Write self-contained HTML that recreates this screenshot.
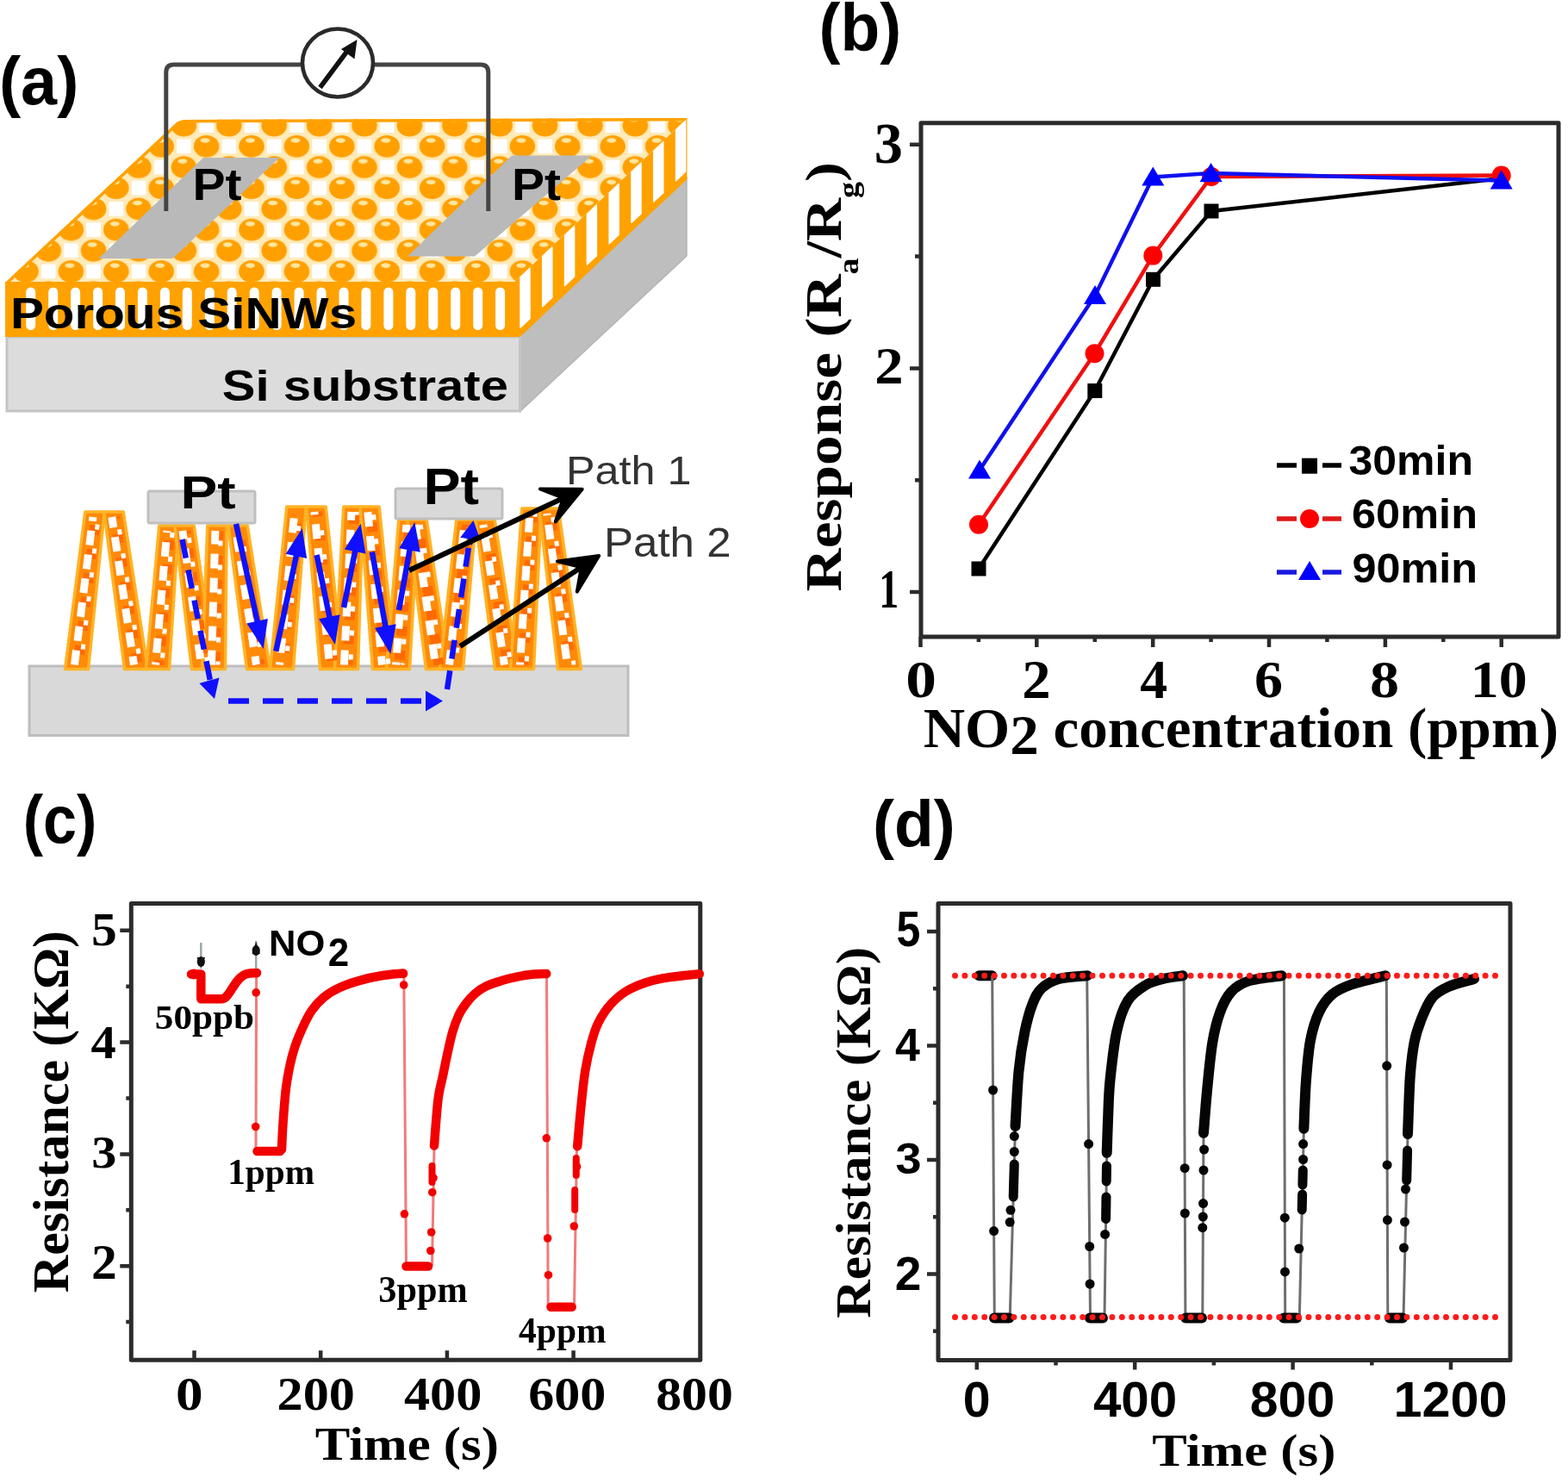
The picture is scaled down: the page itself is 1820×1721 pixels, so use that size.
<!DOCTYPE html>
<html><head><meta charset="utf-8"><title>figure</title>
<style>html,body{margin:0;padding:0;background:#fff;overflow:hidden}svg{display:block}</style></head>
<body><svg width="1820" height="1721" viewBox="0 0 1820 1721">
<rect x="0" y="0" width="1820" height="1721" fill="#fff"/>
<text transform="translate(-1.08,121.08) scale(0.9792,1)" font-family="'Liberation Sans', sans-serif" font-weight="bold" font-size="77.23" fill="#000">(a)</text>
<text transform="translate(950.45,59.08) scale(0.9700,1)" font-family="'Liberation Sans', sans-serif" font-weight="bold" font-size="77.23" fill="#000">(b)</text>
<text transform="translate(26.69,977.78) scale(0.9086,1)" font-family="'Liberation Sans', sans-serif" font-weight="bold" font-size="77.23" fill="#000">(c)</text>
<text transform="translate(1013.05,981.71) scale(0.9792,1)" font-family="'Liberation Sans', sans-serif" font-weight="bold" font-size="76.60" fill="#000">(d)</text>
<rect x="1069.0" y="142.7" width="740.0" height="596.3" fill="none" stroke="#2b2b2b" stroke-width="5" stroke-linejoin="round"/>
<path d="M1069.0,687.0h-13 M1069.0,427.4h-13 M1069.0,167.8h-13 M1069.0,557.2h-7 M1069.0,297.6h-7 M1068.5,739.0v12 M1203.3,739.0v12 M1338.2,739.0v12 M1473.0,739.0v12 M1607.9,739.0v12 M1742.7,739.0v12 M1135.9,739.0v6 M1270.8,739.0v6 M1405.6,739.0v6 M1540.4,739.0v6 M1675.3,739.0v6" stroke="#2b2b2b" stroke-width="4.5" fill="none"/>
<polyline points="1136.0,660.0 1270.8,453.5 1338.5,324.3 1406.0,245.0 1742.7,207.0" fill="none" stroke="#000" stroke-width="4.5" stroke-linejoin="round"/>
<rect x="1127.5" y="651.5" width="17" height="17" fill="#000"/>
<rect x="1262.3" y="445.0" width="17" height="17" fill="#000"/>
<rect x="1330.0" y="315.8" width="17" height="17" fill="#000"/>
<rect x="1397.5" y="236.5" width="17" height="17" fill="#000"/>
<rect x="1734.2" y="198.5" width="17" height="17" fill="#000"/>
<polyline points="1136.0,608.7 1270.5,410.3 1338.3,296.6 1406.0,205.0 1742.7,203.5" fill="none" stroke="#f01010" stroke-width="4.5" stroke-linejoin="round"/>
<circle cx="1136.0" cy="608.7" r="11" fill="#f00"/>
<circle cx="1270.5" cy="410.3" r="11" fill="#f00"/>
<circle cx="1338.3" cy="296.6" r="11" fill="#f00"/>
<circle cx="1406.0" cy="205.0" r="11" fill="#f00"/>
<circle cx="1742.7" cy="203.5" r="11" fill="#f00"/>
<polyline points="1137.0,545.5 1271.0,343.0 1338.3,205.5 1405.6,201.0 1742.7,209.5" fill="none" stroke="#1010f0" stroke-width="4.5" stroke-linejoin="round"/>
<polygon points="1137.0,533.4 1150.0,555.4 1124.0,555.4" fill="#00f"/>
<polygon points="1271.0,330.9 1284.0,352.9 1258.0,352.9" fill="#00f"/>
<polygon points="1338.3,193.4 1351.3,215.4 1325.3,215.4" fill="#00f"/>
<polygon points="1405.6,188.9 1418.6,210.9 1392.6,210.9" fill="#00f"/>
<polygon points="1742.7,197.4 1755.7,219.4 1729.7,219.4" fill="#00f"/>
<path d="M1482,540H1505M1535,540H1557" stroke="#000" stroke-width="5.5"/>
<rect x="1511.0" y="531.7" width="18" height="18" fill="#000"/>
<path d="M1482,602H1505M1535,602H1557" stroke="#e01818" stroke-width="5.5"/>
<circle cx="1520.0" cy="602.0" r="11" fill="#f00"/>
<path d="M1482,664H1505M1535,664H1557" stroke="#1818e0" stroke-width="5.5"/>
<polygon points="1520.0,650.9 1533.0,672.9 1507.0,672.9" fill="#00f"/>
<text transform="translate(1565.50,551.00) scale(1.0282,1)" font-family="'Liberation Sans', sans-serif" font-weight="bold" font-size="48.63" fill="#000">30min</text>
<text transform="translate(1568.98,613.30) scale(1.0451,1)" font-family="'Liberation Sans', sans-serif" font-weight="bold" font-size="48.36" fill="#000">60min</text>
<text transform="translate(1569.49,676.00) scale(1.0503,1)" font-family="'Liberation Sans', sans-serif" font-weight="bold" font-size="47.95" fill="#000">90min</text>
<text transform="translate(1014.85,188.65) scale(0.9798,1)" font-family="'Liberation Serif', serif" font-weight="bold" font-size="67.65" fill="#000">3</text>
<text transform="translate(1015.33,445.38) scale(1.0763,1)" font-family="'Liberation Serif', serif" font-weight="bold" font-size="61.94" fill="#000">2</text>
<text transform="translate(1020.32,705.00) scale(0.7220,1)" font-family="'Liberation Serif', serif" font-weight="bold" font-size="63.64" fill="#000">1</text>
<text transform="translate(1051.14,809.26) scale(1.1565,1)" font-family="'Liberation Serif', serif" font-weight="bold" font-size="61.76" fill="#000">0</text>
<text transform="translate(1186.33,809.87) scale(1.0635,1)" font-family="'Liberation Serif', serif" font-weight="bold" font-size="62.69" fill="#000">2</text>
<text transform="translate(1323.36,809.86) scale(1.0030,1)" font-family="'Liberation Serif', serif" font-weight="bold" font-size="63.64" fill="#000">4</text>
<text transform="translate(1456.02,809.26) scale(1.0671,1)" font-family="'Liberation Serif', serif" font-weight="bold" font-size="61.76" fill="#000">6</text>
<text transform="translate(1589.95,809.26) scale(1.1039,1)" font-family="'Liberation Serif', serif" font-weight="bold" font-size="61.76" fill="#000">8</text>
<text transform="translate(1706.73,809.26) scale(1.0671,1)" font-family="'Liberation Serif', serif" font-weight="bold" font-size="61.76" fill="#000">10</text>
<text transform="translate(1071.66,867.00) scale(1.0283,1)" font-family="'Liberation Serif', serif" font-weight="bold" font-size="65.22" fill="#000">NO<tspan dy="0.13em">2</tspan><tspan dy="-0.13em"> concentration (ppm)</tspan></text>
<text transform="translate(976.00,686.39) rotate(-90) scale(1.1536,1)" font-family="'Liberation Serif', serif" font-weight="bold" font-size="60.14" fill="#000">Response (R<tspan font-size="0.55em" dy="0.6em">a</tspan><tspan dy="-0.33em">/R</tspan><tspan font-size="0.55em" dy="0.6em">g</tspan><tspan dy="-0.33em">)</tspan></text>
<rect x="152.3" y="1048.5" width="660.5" height="529.8" fill="none" stroke="#2b2b2b" stroke-width="5" stroke-linejoin="round"/>
<path d="M152.3,1469.2h-13 M152.3,1339.4h-13 M152.3,1209.6h-13 M152.3,1079.8h-13 M152.3,1534.1h-6 M152.3,1404.3h-6 M152.3,1274.5h-6 M152.3,1144.7h-6 M225.5,1578.3v-11 M372.2,1578.3v-11 M518.9,1578.3v-11 M665.6,1578.3v-11" stroke="#2b2b2b" stroke-width="4.5" fill="none"/>
<polyline points="297.6,1129.0 297.0,1336.0" fill="none" stroke="#f27a7a" stroke-width="3"/>
<polyline points="468.8,1130.0 471.5,1469.0" fill="none" stroke="#f27a7a" stroke-width="3"/>
<polyline points="501.5,1469.0 504.0,1330.0" fill="none" stroke="#f27a7a" stroke-width="3"/>
<polyline points="634.5,1130.0 636.2,1517.0" fill="none" stroke="#f27a7a" stroke-width="3"/>
<polyline points="666.5,1517.0 669.5,1330.0" fill="none" stroke="#f27a7a" stroke-width="3"/>
<path d="M222,1130.5 H233.3 V1159.3 H257 C268,1159.3 272,1131 290,1129.5 L298,1129" fill="none" stroke="#f20000" stroke-width="10.5" stroke-linecap="round" stroke-linejoin="round"/>
<circle cx="225" cy="1130.5" r="6" fill="#f20000"/>
<path d="M298.5,1336 H325" stroke="#f20000" stroke-width="10.5" stroke-linecap="round"/>
<path d="M327.0,1334.0 C327.2,1329.2 327.6,1317.1 328.4,1305.3 C329.2,1293.5 330.5,1275.0 331.9,1263.4 C333.3,1251.8 335.0,1243.6 336.7,1235.5 C338.4,1227.4 340.0,1221.6 342.3,1214.6 C344.6,1207.6 347.4,1200.7 350.7,1193.7 C353.9,1186.7 357.6,1178.8 361.8,1172.8 C366.0,1166.8 370.5,1161.8 375.8,1157.4 C381.1,1153.0 386.9,1149.5 393.9,1146.3 C400.9,1143.0 409.5,1140.2 417.6,1137.9 C425.7,1135.6 434.3,1133.7 442.7,1132.3 C451.1,1130.9 463.7,1130.0 467.9,1129.5" fill="none" stroke="#f20000" stroke-width="10.5" stroke-linecap="round" stroke-linejoin="round"/>
<path d="M471.5,1469.5 H497" stroke="#f20000" stroke-width="10.5" stroke-linecap="round"/>
<path d="M504.0,1329.6 C504.7,1320.8 506.8,1289.9 508.4,1276.6 C510.0,1263.3 511.9,1258.7 513.7,1250.0 C515.5,1241.3 517.1,1233.0 519.0,1224.3 C520.9,1215.6 523.0,1205.5 525.2,1197.9 C527.4,1190.3 529.6,1184.2 532.2,1178.6 C534.8,1173.0 537.8,1168.8 541.0,1164.5 C544.2,1160.2 547.5,1156.4 551.5,1153.0 C555.5,1149.6 559.6,1146.8 564.7,1144.3 C569.8,1141.8 576.4,1139.9 582.3,1138.1 C588.2,1136.3 594.0,1134.9 599.9,1133.7 C605.8,1132.5 611.8,1131.4 617.5,1130.8 C623.2,1130.2 631.4,1130.1 634.2,1130.0" fill="none" stroke="#f20000" stroke-width="10.5" stroke-linecap="round" stroke-linejoin="round"/>
<path d="M501.5,1353 V1372" stroke="#f20000" stroke-width="8" stroke-linecap="round"/>
<path d="M639.5,1516.8 H663.7" stroke="#f20000" stroke-width="10.5" stroke-linecap="round"/>
<path d="M670.2,1330.3 C670.9,1322.6 672.9,1298.9 674.4,1284.3 C675.9,1269.7 677.3,1254.8 679.3,1242.5 C681.3,1230.2 683.8,1219.7 686.3,1210.4 C688.8,1201.1 690.9,1194.1 694.6,1186.7 C698.3,1179.3 703.2,1171.8 708.6,1165.8 C714.0,1159.8 719.7,1154.7 726.7,1150.4 C733.7,1146.1 742.3,1142.7 750.4,1140.0 C758.5,1137.3 765.3,1136.0 775.5,1134.4 C785.7,1132.8 805.8,1130.9 811.8,1130.2" fill="none" stroke="#f20000" stroke-width="10.5" stroke-linecap="round" stroke-linejoin="round"/>
<path d="M667.2,1381 V1404 M668.8,1344 V1364" stroke="#f20000" stroke-width="8" stroke-linecap="round"/>
<circle cx="297.2" cy="1151.9" r="4.8" fill="#f20000"/>
<circle cx="296.7" cy="1307.5" r="4.8" fill="#f20000"/>
<circle cx="468.7" cy="1143" r="4.8" fill="#f20000"/>
<circle cx="469.4" cy="1408.8" r="4.8" fill="#f20000"/>
<circle cx="499.8" cy="1451.5" r="4.8" fill="#f20000"/>
<circle cx="500.7" cy="1430" r="4.8" fill="#f20000"/>
<circle cx="501.8" cy="1383.7" r="4.8" fill="#f20000"/>
<circle cx="503" cy="1367" r="4.8" fill="#f20000"/>
<circle cx="634.3" cy="1320.8" r="4.8" fill="#f20000"/>
<circle cx="635.6" cy="1437" r="4.8" fill="#f20000"/>
<circle cx="636.5" cy="1479.7" r="4.8" fill="#f20000"/>
<circle cx="666.3" cy="1423" r="4.8" fill="#f20000"/>
<circle cx="669.6" cy="1354" r="4.8" fill="#f20000"/>
<circle cx="298" cy="1129.5" r="4.8" fill="#f20000"/>
<circle cx="468.5" cy="1130" r="4.8" fill="#f20000"/>
<circle cx="634.3" cy="1130" r="4.8" fill="#f20000"/>
<path d="M233.3,1094 V1124" stroke="#9aa7a4" stroke-width="2.5"/>
<path d="M228.5,1111 L233.3,1122 L238.1,1111 Z" fill="#111"/>
<ellipse cx="233.3" cy="1116" rx="4.6" ry="6" fill="#111"/>
<path d="M297.2,1092 V1124" stroke="#9aa7a4" stroke-width="2.5"/>
<path d="M292.4,1107 L297.2,1093 L302,1107 Z" fill="#111"/>
<ellipse cx="297.2" cy="1103" rx="4.6" ry="6" fill="#111"/>
<text transform="translate(311.95,1108.50) scale(1.0156,1)" font-family="'Liberation Sans', sans-serif" font-weight="bold" font-size="42.86" fill="#000">NO</text>
<text transform="translate(380.68,1121.00) scale(0.9307,1)" font-family="'Liberation Sans', sans-serif" font-weight="bold" font-size="47.14" fill="#000">2</text>
<text transform="translate(179.77,1194.30) scale(1.0733,1)" font-family="'Liberation Serif', serif" font-weight="bold" font-size="40.29" fill="#000">50ppb</text>
<text transform="translate(264.20,1374.20) scale(0.9835,1)" font-family="'Liberation Serif', serif" font-weight="bold" font-size="41.97" fill="#000">1ppm</text>
<text transform="translate(439.31,1511.00) scale(0.9455,1)" font-family="'Liberation Serif', serif" font-weight="bold" font-size="44.70" fill="#000">3ppm</text>
<text transform="translate(602.08,1558.00) scale(0.9998,1)" font-family="'Liberation Serif', serif" font-weight="bold" font-size="41.54" fill="#000">4ppm</text>
<text transform="translate(106.12,1096.95) scale(1.0763,1)" font-family="'Liberation Serif', serif" font-weight="bold" font-size="55.30" fill="#000">5</text>
<text transform="translate(105.41,1227.95) scale(1.0580,1)" font-family="'Liberation Serif', serif" font-weight="bold" font-size="55.30" fill="#000">4</text>
<text transform="translate(106.17,1355.43) scale(1.0831,1)" font-family="'Liberation Serif', serif" font-weight="bold" font-size="53.68" fill="#000">3</text>
<text transform="translate(106.12,1483.93) scale(1.0359,1)" font-family="'Liberation Serif', serif" font-weight="bold" font-size="57.46" fill="#000">2</text>
<text transform="translate(203.98,1635.91) scale(1.1596,1)" font-family="'Liberation Serif', serif" font-weight="bold" font-size="54.41" fill="#000">0</text>
<text transform="translate(321.59,1635.91) scale(1.1066,1)" font-family="'Liberation Serif', serif" font-weight="bold" font-size="54.41" fill="#000">200</text>
<text transform="translate(468.90,1635.91) scale(1.1090,1)" font-family="'Liberation Serif', serif" font-weight="bold" font-size="54.41" fill="#000">400</text>
<text transform="translate(613.20,1635.91) scale(1.1053,1)" font-family="'Liberation Serif', serif" font-weight="bold" font-size="54.41" fill="#000">600</text>
<text transform="translate(761.21,1635.91) scale(1.0988,1)" font-family="'Liberation Serif', serif" font-weight="bold" font-size="54.41" fill="#000">800</text>
<text transform="translate(365.78,1694.00) scale(1.0889,1)" font-family="'Liberation Serif', serif" font-weight="bold" font-size="55.80" fill="#000">Time (s)</text>
<text transform="translate(78.60,1500.20) rotate(-90) scale(1.0342,1)" font-family="'Liberation Serif', serif" font-weight="bold" font-size="58.12" fill="#000">Resistance (KΩ)</text>
<rect x="1089.0" y="1048.5" width="664.0" height="530.0" fill="none" stroke="#2b2b2b" stroke-width="5" stroke-linejoin="round"/>
<path d="M1089.0,1478.6h-13 M1089.0,1346.1h-13 M1089.0,1213.6h-13 M1089.0,1081.1h-13 M1089.0,1544.8h-6 M1089.0,1412.3h-6 M1089.0,1279.8h-6 M1089.0,1147.3h-6 M1133.8,1578.5v11 M1317.2,1578.5v11 M1500.6,1578.5v11 M1684.0,1578.5v11 M1225.5,1578.5v6 M1408.9,1578.5v6 M1592.3,1578.5v6" stroke="#2b2b2b" stroke-width="4.5" fill="none"/>
<path d="M1136.5,1132.3 H1151.5" stroke="#050505" stroke-width="12" stroke-linecap="round"/>
<path d="M1151.7,1132.3 L1154.3,1529.6 M1172.2,1529.6 L1178.5,1307" stroke="#6e6e6e" stroke-width="3" fill="none"/>
<path d="M1261.7,1132.3 L1265.5,1529.6 M1282,1529.6 L1284.7,1337.8" stroke="#6e6e6e" stroke-width="3" fill="none"/>
<path d="M1374.2,1132.3 L1375.9,1529.6 M1395.8,1529.6 L1397,1314.8" stroke="#6e6e6e" stroke-width="3" fill="none"/>
<path d="M1490.4,1132.3 L1491.7,1529.6 M1508.3,1529.6 L1513.4,1309.7" stroke="#6e6e6e" stroke-width="3" fill="none"/>
<path d="M1609.3,1132.3 L1610.8,1529.6 M1629,1529.6 L1634,1316" stroke="#6e6e6e" stroke-width="3" fill="none"/>
<path d="M1154,1529.6 H1171.3" stroke="#050505" stroke-width="12" stroke-linecap="round"/>
<path d="M1178.5,1307.0 C1179.2,1296.3 1180.7,1261.3 1182.5,1243.0 C1184.3,1224.7 1186.8,1210.0 1189.5,1197.0 C1192.2,1184.0 1195.2,1173.3 1198.5,1165.0 C1201.8,1156.7 1203.9,1151.8 1209.0,1147.0 C1214.1,1142.2 1220.2,1138.5 1229.0,1136.0 C1237.8,1133.5 1256.5,1132.9 1262.0,1132.3" fill="none" stroke="#050505" stroke-width="12" stroke-linecap="round" stroke-linejoin="round"/>
<circle cx="1152.6" cy="1265" r="5.5" fill="#050505"/>
<circle cx="1153.6" cy="1428.6" r="5.5" fill="#050505"/>
<circle cx="1172.2" cy="1418.3" r="5.5" fill="#050505"/>
<circle cx="1173" cy="1404.3" r="5.5" fill="#050505"/>
<circle cx="1177.3" cy="1336.5" r="5.5" fill="#050505"/>
<circle cx="1177.3" cy="1318.6" r="5.5" fill="#050505"/>
<path d="M1176.2,1389 L1177.3,1351" stroke="#050505" stroke-width="11" stroke-linecap="round"/>
<path d="M1265,1529.6 H1280" stroke="#050505" stroke-width="12" stroke-linecap="round"/>
<path d="M1284.7,1337.8 C1285.0,1330.7 1285.6,1309.1 1286.2,1295.0 C1286.8,1280.9 1286.8,1269.7 1288.5,1253.4 C1290.2,1237.1 1292.8,1212.3 1296.2,1197.0 C1299.6,1181.7 1303.5,1170.3 1309.0,1161.4 C1314.5,1152.5 1322.6,1147.7 1329.4,1143.5 C1336.2,1139.3 1342.7,1137.9 1350.0,1136.0 C1357.3,1134.1 1369.2,1132.9 1373.0,1132.3" fill="none" stroke="#050505" stroke-width="12" stroke-linecap="round" stroke-linejoin="round"/>
<circle cx="1263.6" cy="1327.6" r="5.5" fill="#050505"/>
<circle cx="1264.7" cy="1446.5" r="5.5" fill="#050505"/>
<circle cx="1265.1" cy="1490" r="5.5" fill="#050505"/>
<circle cx="1282.6" cy="1432.4" r="5.5" fill="#050505"/>
<path d="M1283.6,1414.5 L1284.0,1389" stroke="#050505" stroke-width="11" stroke-linecap="round"/>
<path d="M1284.2,1371 L1284.5,1353" stroke="#050505" stroke-width="11" stroke-linecap="round"/>
<path d="M1376.2,1529.6 H1395" stroke="#050505" stroke-width="12" stroke-linecap="round"/>
<path d="M1397.0,1314.8 C1397.7,1306.7 1399.3,1283.7 1401.0,1266.2 C1402.7,1248.7 1404.8,1225.3 1407.3,1210.0 C1409.8,1194.7 1412.7,1184.0 1416.3,1174.2 C1419.9,1164.4 1423.5,1157.1 1429.0,1151.1 C1434.5,1145.1 1439.7,1141.5 1449.5,1138.4 C1459.3,1135.3 1481.4,1133.3 1487.8,1132.3" fill="none" stroke="#050505" stroke-width="12" stroke-linecap="round" stroke-linejoin="round"/>
<circle cx="1375.2" cy="1355.7" r="5.5" fill="#050505"/>
<circle cx="1375.4" cy="1408" r="5.5" fill="#050505"/>
<circle cx="1395.8" cy="1424.7" r="5.5" fill="#050505"/>
<circle cx="1396.3" cy="1412" r="5.5" fill="#050505"/>
<circle cx="1396.6" cy="1396.6" r="5.5" fill="#050505"/>
<circle cx="1397" cy="1358" r="5.5" fill="#050505"/>
<circle cx="1397.6" cy="1334" r="5.5" fill="#050505"/>
<path d="M1490,1529.6 H1505" stroke="#050505" stroke-width="12" stroke-linecap="round"/>
<path d="M1513.4,1309.7 C1513.8,1300.3 1514.7,1270.5 1516.0,1253.4 C1517.3,1236.4 1518.5,1220.6 1521.0,1207.4 C1523.5,1194.2 1527.0,1183.2 1531.3,1174.2 C1535.6,1165.2 1540.3,1159.0 1546.7,1153.7 C1553.1,1148.4 1559.5,1145.8 1569.7,1142.2 C1579.9,1138.6 1601.6,1134.0 1608.0,1132.3" fill="none" stroke="#050505" stroke-width="12" stroke-linecap="round" stroke-linejoin="round"/>
<circle cx="1491.3" cy="1413.2" r="5.5" fill="#050505"/>
<circle cx="1491.5" cy="1475.9" r="5.5" fill="#050505"/>
<circle cx="1507.8" cy="1449" r="5.5" fill="#050505"/>
<circle cx="1512.6" cy="1345.5" r="5.5" fill="#050505"/>
<circle cx="1512.6" cy="1327.6" r="5.5" fill="#050505"/>
<path d="M1511.2,1404 L1511.6,1386" stroke="#050505" stroke-width="11" stroke-linecap="round"/>
<path d="M1511.9,1375 L1512.3,1358" stroke="#050505" stroke-width="11" stroke-linecap="round"/>
<path d="M1613,1529.6 H1628" stroke="#050505" stroke-width="12" stroke-linecap="round"/>
<path d="M1634.0,1316.0 C1634.5,1305.0 1635.5,1267.7 1636.7,1250.0 C1638.0,1232.3 1639.4,1221.1 1641.5,1210.0 C1643.6,1198.9 1646.0,1192.1 1649.5,1183.4 C1653.0,1174.7 1657.0,1164.2 1662.3,1157.8 C1667.6,1151.4 1673.3,1148.6 1681.4,1145.0 C1689.5,1141.4 1706.1,1137.5 1711.0,1136.0" fill="none" stroke="#050505" stroke-width="12" stroke-linecap="round" stroke-linejoin="round"/>
<circle cx="1609.7" cy="1236.8" r="5.5" fill="#050505"/>
<circle cx="1610.1" cy="1351.9" r="5.5" fill="#050505"/>
<circle cx="1610.4" cy="1415.8" r="5.5" fill="#050505"/>
<circle cx="1629.5" cy="1448" r="5.5" fill="#050505"/>
<circle cx="1630.5" cy="1418" r="5.5" fill="#050505"/>
<circle cx="1631.5" cy="1380" r="5.5" fill="#050505"/>
<path d="M1632.7,1370 L1633.6,1335" stroke="#050505" stroke-width="11" stroke-linecap="round"/>
<path d="M1108.5,1132.3 H1736" stroke="#ff1a1a" stroke-width="7" stroke-linecap="round" stroke-dasharray="0 11.4" fill="none"/>
<path d="M1108.5,1528.5 H1736" stroke="#ff1a1a" stroke-width="7" stroke-linecap="round" stroke-dasharray="0 11.4" fill="none"/>
<text transform="translate(1040.50,1097.92) scale(0.8642,1)" font-family="'Liberation Sans', sans-serif" font-weight="bold" font-size="57.86" fill="#000">5</text>
<text transform="translate(1038.98,1230.50) scale(0.9541,1)" font-family="'Liberation Sans', sans-serif" font-weight="bold" font-size="54.35" fill="#000">4</text>
<text transform="translate(1039.42,1362.49) scale(1.0650,1)" font-family="'Liberation Sans', sans-serif" font-weight="bold" font-size="50.70" fill="#000">3</text>
<text transform="translate(1038.85,1497.00) scale(0.9890,1)" font-family="'Liberation Sans', sans-serif" font-weight="bold" font-size="55.71" fill="#000">2</text>
<text transform="translate(1117.71,1643.92) scale(0.9921,1)" font-family="'Liberation Sans', sans-serif" font-weight="bold" font-size="57.75" fill="#000">0</text>
<text transform="translate(1268.92,1643.92) scale(1.0102,1)" font-family="'Liberation Sans', sans-serif" font-weight="bold" font-size="57.75" fill="#000">400</text>
<text transform="translate(1450.73,1643.92) scale(1.0228,1)" font-family="'Liberation Sans', sans-serif" font-weight="bold" font-size="57.75" fill="#000">800</text>
<text transform="translate(1617.43,1643.92) scale(1.0292,1)" font-family="'Liberation Sans', sans-serif" font-weight="bold" font-size="57.75" fill="#000">1200</text>
<text transform="translate(1337.28,1701.40) scale(1.1517,1)" font-family="'Liberation Serif', serif" font-weight="bold" font-size="52.75" fill="#000">Time (s)</text>
<text transform="translate(1010.00,1529.73) rotate(-90) scale(1.0763,1)" font-family="'Liberation Serif', serif" font-weight="bold" font-size="57.25" fill="#000">Resistance (KΩ)</text>
<defs>
<pattern id="surf" patternUnits="userSpaceOnUse" x="30" y="24.6" width="52.4" height="48.4">
 <rect width="52.4" height="48.4" fill="#ffeab8"/>
 <g fill="#ffffff">
  <rect x="17.9" y="-8.3" width="16.6" height="16.6"/><rect x="17.9" y="40.1" width="16.6" height="16.6"/>
  <rect x="-8.3" y="15.9" width="16.6" height="16.6"/><rect x="44.1" y="15.9" width="16.6" height="16.6"/>
 </g>
 <g id="ball">
  <ellipse cx="0" cy="0" rx="14.8" ry="12.9" fill="#ffa000"/>
  <ellipse cx="-1.5" cy="-6.8" rx="5.5" ry="2.8" fill="#ffe7a0"/>
 </g>
 <use href="#ball" x="52.4"/><use href="#ball" y="48.4"/><use href="#ball" x="52.4" y="48.4"/>
 <use href="#ball" x="26.2" y="24.2"/>
</pattern>
<linearGradient id="subR" x1="0" y1="0" x2="1" y2="0"><stop offset="0" stop-color="#bcbcbc"/><stop offset="1" stop-color="#c2c2c2"/></linearGradient>
</defs>
<polygon points="603.5,390 797,207 797,297 603.5,477.5" fill="#bebebe" stroke="#b4b4b4" stroke-width="1.5"/>
<rect x="8" y="391" width="595.5" height="86" fill="#dcdcdc" stroke="#c4c4c4" stroke-width="3"/>
<rect x="6" y="327" width="598" height="64" fill="#ffa200"/>
<rect x="30.2" y="333.5" width="11" height="49.5" rx="5.5" fill="#fff"/><rect x="56.2" y="333.5" width="11" height="49.5" rx="5.5" fill="#fff"/><rect x="82.1" y="333.5" width="11" height="49.5" rx="5.5" fill="#fff"/><rect x="108.1" y="333.5" width="11" height="49.5" rx="5.5" fill="#fff"/><rect x="134.0" y="333.5" width="11" height="49.5" rx="5.5" fill="#fff"/><rect x="159.9" y="333.5" width="11" height="49.5" rx="5.5" fill="#fff"/><rect x="185.9" y="333.5" width="11" height="49.5" rx="5.5" fill="#fff"/><rect x="211.8" y="333.5" width="11" height="49.5" rx="5.5" fill="#fff"/><rect x="237.8" y="333.5" width="11" height="49.5" rx="5.5" fill="#fff"/><rect x="263.7" y="333.5" width="11" height="49.5" rx="5.5" fill="#fff"/><rect x="289.7" y="333.5" width="11" height="49.5" rx="5.5" fill="#fff"/><rect x="315.6" y="333.5" width="11" height="49.5" rx="5.5" fill="#fff"/><rect x="341.6" y="333.5" width="11" height="49.5" rx="5.5" fill="#fff"/><rect x="367.5" y="333.5" width="11" height="49.5" rx="5.5" fill="#fff"/><rect x="393.5" y="333.5" width="11" height="49.5" rx="5.5" fill="#fff"/><rect x="419.4" y="333.5" width="11" height="49.5" rx="5.5" fill="#fff"/><rect x="445.4" y="333.5" width="11" height="49.5" rx="5.5" fill="#fff"/><rect x="471.3" y="333.5" width="11" height="49.5" rx="5.5" fill="#fff"/><rect x="497.3" y="333.5" width="11" height="49.5" rx="5.5" fill="#fff"/><rect x="523.2" y="333.5" width="11" height="49.5" rx="5.5" fill="#fff"/><rect x="549.2" y="333.5" width="11" height="49.5" rx="5.5" fill="#fff"/><rect x="575.1" y="333.5" width="11" height="49.5" rx="5.5" fill="#fff"/>
<polygon points="597,327 797.5,137 797.5,208 603.5,391 597,391" fill="#ffa200"/>
<polygon points="604.0,321.9 615.0,311.4 615.0,369.7 604.0,380.0" fill="#fff" stroke="#fff" stroke-width="1.5" stroke-linejoin="round"/><polygon points="629.8,297.4 640.8,287.0 640.8,345.3 629.8,355.7" fill="#fff" stroke="#fff" stroke-width="1.5" stroke-linejoin="round"/><polygon points="655.6,273.0 666.6,262.5 666.6,321.0 655.6,331.4" fill="#fff" stroke="#fff" stroke-width="1.5" stroke-linejoin="round"/><polygon points="681.4,248.5 692.4,238.1 692.4,296.6 681.4,307.0" fill="#fff" stroke="#fff" stroke-width="1.5" stroke-linejoin="round"/><polygon points="707.2,224.1 718.2,213.6 718.2,272.3 707.2,282.7" fill="#fff" stroke="#fff" stroke-width="1.5" stroke-linejoin="round"/><polygon points="733.0,199.6 744.0,189.2 744.0,248.0 733.0,258.3" fill="#fff" stroke="#fff" stroke-width="1.5" stroke-linejoin="round"/><polygon points="758.8,175.2 769.8,164.7 769.8,223.6 758.8,234.0" fill="#fff" stroke="#fff" stroke-width="1.5" stroke-linejoin="round"/><polygon points="784.6,150.7 795.6,140.3 795.6,199.3 784.6,209.7" fill="#fff" stroke="#fff" stroke-width="1.5" stroke-linejoin="round"/>
<clipPath id="topclip"><path d="M7,327 L203,144 Q208,139 216,139 L797.5,137 L597,327 Z"/></clipPath>
<path d="M7,327 L203,144 Q208,139 216,139 L797.5,137 L597,327 Z" fill="url(#surf)"/>
<path d="M7,327 L203,144 Q208,139 216,139 L797.5,137" fill="none" stroke="#ffa200" stroke-width="7" clip-path="url(#topclip)"/>
<polygon points="114.5,300 200.5,300 324.5,183 236,183" fill="#b9b9b9"/>
<polygon points="473,297.5 551,297.5 687,180.5 594,180.5" fill="#b9b9b9"/>
<path d="M192.8,245 V84 Q192.8,75 201.5,75 H351 M433,75 H558 Q566.8,75 566.8,84 V245" fill="none" stroke="#444" stroke-width="5"/>
<ellipse cx="392" cy="73" rx="41" ry="39.5" fill="#fff" stroke="#2a2a2a" stroke-width="4.6"/>
<path d="M371.5,101.5 L404,58" stroke="#111" stroke-width="5.5"/>
<polygon points="414.5,46 411.5,68.5 396,57" fill="#111"/>
<text transform="translate(223.51,232.00) scale(1.1092,1)" font-family="'Liberation Sans', sans-serif" font-weight="bold" font-size="51.45" fill="#000">Pt</text>
<text transform="translate(594.01,232.00) scale(1.0938,1)" font-family="'Liberation Sans', sans-serif" font-weight="bold" font-size="52.17" fill="#000">Pt</text>
<text transform="translate(11.91,380.50) scale(1.1524,1)" font-family="'Liberation Sans', sans-serif" font-weight="bold" font-size="50.68" fill="#000">Porous SiNWs</text>
<text transform="translate(257.76,465.40) scale(1.1640,1)" font-family="'Liberation Sans', sans-serif" font-weight="bold" font-size="49.86" fill="#000">Si substrate</text>
<rect x="34" y="773" width="695" height="80.5" fill="#d9d9d9" stroke="#bdbdbd" stroke-width="3"/>
<g><polygon points="75.5,776.5 102.5,776.5 121.2,594 98.8,594" fill="#ff8a08" stroke="#ffb326" stroke-width="3.5" stroke-linejoin="round"/><polygon points="144.5,776.5 171.5,776.5 143.2,594 120.8,594" fill="#ff8a08" stroke="#ffb326" stroke-width="3.5" stroke-linejoin="round"/><polygon points="169.5,776.5 196.5,776.5 207.2,610 184.8,610" fill="#ff8a08" stroke="#ffb326" stroke-width="3.5" stroke-linejoin="round"/><polygon points="222.5,776.5 249.5,776.5 225.2,610 202.8,610" fill="#ff8a08" stroke="#ffb326" stroke-width="3.5" stroke-linejoin="round"/><polygon points="234.5,776.5 261.5,776.5 263.2,610 240.8,610" fill="#ff8a08" stroke="#ffb326" stroke-width="3.5" stroke-linejoin="round"/><polygon points="286.5,776.5 313.5,776.5 287.2,610 264.8,610" fill="#ff8a08" stroke="#ffb326" stroke-width="3.5" stroke-linejoin="round"/><polygon points="313.5,776.5 340.5,776.5 355.2,588 332.8,588" fill="#ff8a08" stroke="#ffb326" stroke-width="3.5" stroke-linejoin="round"/><polygon points="371.5,776.5 398.5,776.5 378.2,588 355.8,588" fill="#ff8a08" stroke="#ffb326" stroke-width="3.5" stroke-linejoin="round"/><polygon points="388.5,776.5 415.5,776.5 421.2,588 398.8,588" fill="#ff8a08" stroke="#ffb326" stroke-width="3.5" stroke-linejoin="round"/><polygon points="432.5,776.5 459.5,776.5 440.2,588 417.8,588" fill="#ff8a08" stroke="#ffb326" stroke-width="3.5" stroke-linejoin="round"/><polygon points="448.5,776.5 475.5,776.5 485.2,603 462.8,603" fill="#ff8a08" stroke="#ffb326" stroke-width="3.5" stroke-linejoin="round"/><polygon points="494.5,776.5 521.5,776.5 495.2,603 472.8,603" fill="#ff8a08" stroke="#ffb326" stroke-width="3.5" stroke-linejoin="round"/><polygon points="510.5,776.5 537.5,776.5 552.2,603 529.8,603" fill="#ff8a08" stroke="#ffb326" stroke-width="3.5" stroke-linejoin="round"/><polygon points="574.5,776.5 601.5,776.5 574.2,603 551.8,603" fill="#ff8a08" stroke="#ffb326" stroke-width="3.5" stroke-linejoin="round"/><polygon points="592.5,776.5 619.5,776.5 628.2,590 605.8,590" fill="#ff8a08" stroke="#ffb326" stroke-width="3.5" stroke-linejoin="round"/><polygon points="647.5,776.5 674.5,776.5 648.2,590 625.8,590" fill="#ff8a08" stroke="#ffb326" stroke-width="3.5" stroke-linejoin="round"/><line x1="90.5" y1="771.5" x2="111.3" y2="600" stroke="#ff6a00" stroke-width="12" stroke-dasharray="11 17" stroke-dashoffset="16"/><line x1="86.5" y1="771.5" x2="107.9" y2="600" stroke="#fff" stroke-width="9" stroke-dasharray="17 11" stroke-dashoffset="0"/><line x1="94.0" y1="771.5" x2="114.2" y2="600" stroke="#fff" stroke-width="5" stroke-dasharray="6 22" stroke-dashoffset="10"/><line x1="159.5" y1="771.5" x2="133.3" y2="600" stroke="#ff6a00" stroke-width="12" stroke-dasharray="11 17" stroke-dashoffset="25"/><line x1="155.5" y1="771.5" x2="129.9" y2="600" stroke="#fff" stroke-width="9" stroke-dasharray="17 11" stroke-dashoffset="7"/><line x1="163.0" y1="771.5" x2="136.2" y2="600" stroke="#fff" stroke-width="5" stroke-dasharray="6 22" stroke-dashoffset="15"/><line x1="184.5" y1="771.5" x2="197.3" y2="616" stroke="#ff6a00" stroke-width="12" stroke-dasharray="11 17" stroke-dashoffset="34"/><line x1="180.5" y1="771.5" x2="193.9" y2="616" stroke="#fff" stroke-width="9" stroke-dasharray="17 11" stroke-dashoffset="14"/><line x1="188.0" y1="771.5" x2="200.2" y2="616" stroke="#fff" stroke-width="5" stroke-dasharray="6 22" stroke-dashoffset="20"/><line x1="237.5" y1="771.5" x2="215.3" y2="616" stroke="#ff6a00" stroke-width="12" stroke-dasharray="11 17" stroke-dashoffset="43"/><line x1="233.5" y1="771.5" x2="211.9" y2="616" stroke="#fff" stroke-width="9" stroke-dasharray="17 11" stroke-dashoffset="21"/><line x1="241.0" y1="771.5" x2="218.2" y2="616" stroke="#fff" stroke-width="5" stroke-dasharray="6 22" stroke-dashoffset="25"/><line x1="249.5" y1="771.5" x2="253.3" y2="616" stroke="#ff6a00" stroke-width="12" stroke-dasharray="11 17" stroke-dashoffset="52"/><line x1="245.5" y1="771.5" x2="249.9" y2="616" stroke="#fff" stroke-width="9" stroke-dasharray="17 11" stroke-dashoffset="28"/><line x1="253.0" y1="771.5" x2="256.2" y2="616" stroke="#fff" stroke-width="5" stroke-dasharray="6 22" stroke-dashoffset="30"/><line x1="301.5" y1="771.5" x2="277.3" y2="616" stroke="#ff6a00" stroke-width="12" stroke-dasharray="11 17" stroke-dashoffset="61"/><line x1="297.5" y1="771.5" x2="273.9" y2="616" stroke="#fff" stroke-width="9" stroke-dasharray="17 11" stroke-dashoffset="35"/><line x1="305.0" y1="771.5" x2="280.2" y2="616" stroke="#fff" stroke-width="5" stroke-dasharray="6 22" stroke-dashoffset="35"/><line x1="328.5" y1="771.5" x2="345.3" y2="594" stroke="#ff6a00" stroke-width="12" stroke-dasharray="11 17" stroke-dashoffset="70"/><line x1="324.5" y1="771.5" x2="341.9" y2="594" stroke="#fff" stroke-width="9" stroke-dasharray="17 11" stroke-dashoffset="42"/><line x1="332.0" y1="771.5" x2="348.2" y2="594" stroke="#fff" stroke-width="5" stroke-dasharray="6 22" stroke-dashoffset="40"/><line x1="386.5" y1="771.5" x2="368.3" y2="594" stroke="#ff6a00" stroke-width="12" stroke-dasharray="11 17" stroke-dashoffset="79"/><line x1="382.5" y1="771.5" x2="364.9" y2="594" stroke="#fff" stroke-width="9" stroke-dasharray="17 11" stroke-dashoffset="49"/><line x1="390.0" y1="771.5" x2="371.2" y2="594" stroke="#fff" stroke-width="5" stroke-dasharray="6 22" stroke-dashoffset="45"/><line x1="403.5" y1="771.5" x2="411.3" y2="594" stroke="#ff6a00" stroke-width="12" stroke-dasharray="11 17" stroke-dashoffset="88"/><line x1="399.5" y1="771.5" x2="407.9" y2="594" stroke="#fff" stroke-width="9" stroke-dasharray="17 11" stroke-dashoffset="56"/><line x1="407.0" y1="771.5" x2="414.2" y2="594" stroke="#fff" stroke-width="5" stroke-dasharray="6 22" stroke-dashoffset="50"/><line x1="447.5" y1="771.5" x2="430.3" y2="594" stroke="#ff6a00" stroke-width="12" stroke-dasharray="11 17" stroke-dashoffset="97"/><line x1="443.5" y1="771.5" x2="426.9" y2="594" stroke="#fff" stroke-width="9" stroke-dasharray="17 11" stroke-dashoffset="63"/><line x1="451.0" y1="771.5" x2="433.2" y2="594" stroke="#fff" stroke-width="5" stroke-dasharray="6 22" stroke-dashoffset="55"/><line x1="463.5" y1="771.5" x2="475.3" y2="609" stroke="#ff6a00" stroke-width="12" stroke-dasharray="11 17" stroke-dashoffset="106"/><line x1="459.5" y1="771.5" x2="471.9" y2="609" stroke="#fff" stroke-width="9" stroke-dasharray="17 11" stroke-dashoffset="70"/><line x1="467.0" y1="771.5" x2="478.2" y2="609" stroke="#fff" stroke-width="5" stroke-dasharray="6 22" stroke-dashoffset="60"/><line x1="509.5" y1="771.5" x2="485.3" y2="609" stroke="#ff6a00" stroke-width="12" stroke-dasharray="11 17" stroke-dashoffset="115"/><line x1="505.5" y1="771.5" x2="481.9" y2="609" stroke="#fff" stroke-width="9" stroke-dasharray="17 11" stroke-dashoffset="77"/><line x1="513.0" y1="771.5" x2="488.2" y2="609" stroke="#fff" stroke-width="5" stroke-dasharray="6 22" stroke-dashoffset="65"/><line x1="525.5" y1="771.5" x2="542.3" y2="609" stroke="#ff6a00" stroke-width="12" stroke-dasharray="11 17" stroke-dashoffset="124"/><line x1="521.5" y1="771.5" x2="538.9" y2="609" stroke="#fff" stroke-width="9" stroke-dasharray="17 11" stroke-dashoffset="84"/><line x1="529.0" y1="771.5" x2="545.2" y2="609" stroke="#fff" stroke-width="5" stroke-dasharray="6 22" stroke-dashoffset="70"/><line x1="589.5" y1="771.5" x2="564.3" y2="609" stroke="#ff6a00" stroke-width="12" stroke-dasharray="11 17" stroke-dashoffset="133"/><line x1="585.5" y1="771.5" x2="560.9" y2="609" stroke="#fff" stroke-width="9" stroke-dasharray="17 11" stroke-dashoffset="91"/><line x1="593.0" y1="771.5" x2="567.2" y2="609" stroke="#fff" stroke-width="5" stroke-dasharray="6 22" stroke-dashoffset="75"/><line x1="607.5" y1="771.5" x2="618.3" y2="596" stroke="#ff6a00" stroke-width="12" stroke-dasharray="11 17" stroke-dashoffset="142"/><line x1="603.5" y1="771.5" x2="614.9" y2="596" stroke="#fff" stroke-width="9" stroke-dasharray="17 11" stroke-dashoffset="98"/><line x1="611.0" y1="771.5" x2="621.2" y2="596" stroke="#fff" stroke-width="5" stroke-dasharray="6 22" stroke-dashoffset="80"/><line x1="662.5" y1="771.5" x2="638.3" y2="596" stroke="#ff6a00" stroke-width="12" stroke-dasharray="11 17" stroke-dashoffset="151"/><line x1="658.5" y1="771.5" x2="634.9" y2="596" stroke="#fff" stroke-width="9" stroke-dasharray="17 11" stroke-dashoffset="105"/><line x1="666.0" y1="771.5" x2="641.2" y2="596" stroke="#fff" stroke-width="5" stroke-dasharray="6 22" stroke-dashoffset="85"/></g>
<rect x="172" y="570" width="124" height="37" fill="#d9d9d9" stroke="#bfbfbf" stroke-width="3" rx="2"/>
<rect x="459" y="567" width="124" height="35" fill="#d9d9d9" stroke="#bfbfbf" stroke-width="3" rx="2"/>
<text transform="translate(209.51,590.00) scale(1.1800,1)" font-family="'Liberation Sans', sans-serif" font-weight="bold" font-size="54.35" fill="#000">Pt</text>
<text transform="translate(491.47,585.00) scale(1.0753,1)" font-family="'Liberation Sans', sans-serif" font-weight="bold" font-size="60.14" fill="#000">Pt</text>
<line x1="274.0" y1="608.0" x2="299.5" y2="724.7" stroke="#1010ff" stroke-width="6.5"/><polygon points="305.7,753.0 286.4,723.4 310.9,718.1" fill="#1010ff"/>
<line x1="320.3" y1="755.7" x2="344.7" y2="641.4" stroke="#1010ff" stroke-width="6.5"/><polygon points="350.8,613.0 356.1,647.9 331.7,642.7" fill="#1010ff"/>
<line x1="367.6" y1="644.0" x2="383.2" y2="719.6" stroke="#1010ff" stroke-width="6.5"/><polygon points="389.0,748.0 370.1,718.2 394.6,713.2" fill="#1010ff"/>
<line x1="399.0" y1="705.0" x2="412.9" y2="636.1" stroke="#1010ff" stroke-width="6.5"/><polygon points="418.7,607.7 424.4,642.5 399.9,637.6" fill="#1010ff"/>
<line x1="431.9" y1="640.7" x2="448.1" y2="730.5" stroke="#1010ff" stroke-width="6.5"/><polygon points="453.3,759.0 435.1,728.8 459.7,724.3" fill="#1010ff"/>
<line x1="463.0" y1="708.0" x2="476.2" y2="634.5" stroke="#1010ff" stroke-width="6.5"/><polygon points="481.3,606.0 487.8,640.7 463.2,636.3" fill="#1010ff"/>
<path d="M211.5,626 L245,795" stroke="#1010ff" stroke-width="6.5" stroke-dasharray="22 14" fill="none"/>
<line x1="243.0" y1="790.0" x2="244.1" y2="793.7" stroke="#1010ff" stroke-width="6.5"/><polygon points="249.0,811.0 231.4,793.1 254.5,786.5" fill="#1010ff"/>
<path d="M265,813.5 H496" stroke="#1010ff" stroke-width="6.5" stroke-dasharray="24 16" fill="none"/>
<line x1="496.0" y1="813.5" x2="498.0" y2="813.5" stroke="#1010ff" stroke-width="6.5"/><polygon points="514.0,813.5 494.0,825.5 494.0,801.5" fill="#1010ff"/>
<path d="M519,800 L545,628" stroke="#1010ff" stroke-width="6.5" stroke-dasharray="22 14" fill="none"/>
<line x1="545.0" y1="632.0" x2="546.6" y2="621.8" stroke="#1010ff" stroke-width="6.5"/><polygon points="549.5,604.0 557.9,627.6 534.2,623.8" fill="#1010ff"/>
<line x1="474.7" y1="662.0" x2="653.8" y2="578.0" stroke="#000" stroke-width="6"/><polygon points="675.7,567.7 644.8,605.4 653.8,578.0 626.9,567.4" fill="#000" stroke="#000" stroke-width="4" stroke-linejoin="round"/>
<line x1="534.0" y1="750.0" x2="674.9" y2="658.2" stroke="#000" stroke-width="6"/><polygon points="695.2,645.0 669.8,686.6 674.9,658.2 646.9,651.4" fill="#000" stroke="#000" stroke-width="4" stroke-linejoin="round"/>
<text transform="translate(656.97,561.50) scale(1.0813,1)" font-family="'Liberation Sans', sans-serif" font-weight="normal" font-size="46.58" fill="#333">Path 1</text>
<text transform="translate(700.91,645.50) scale(1.0810,1)" font-family="'Liberation Sans', sans-serif" font-weight="normal" font-size="47.26" fill="#333">Path 2</text>
</svg></body></html>
